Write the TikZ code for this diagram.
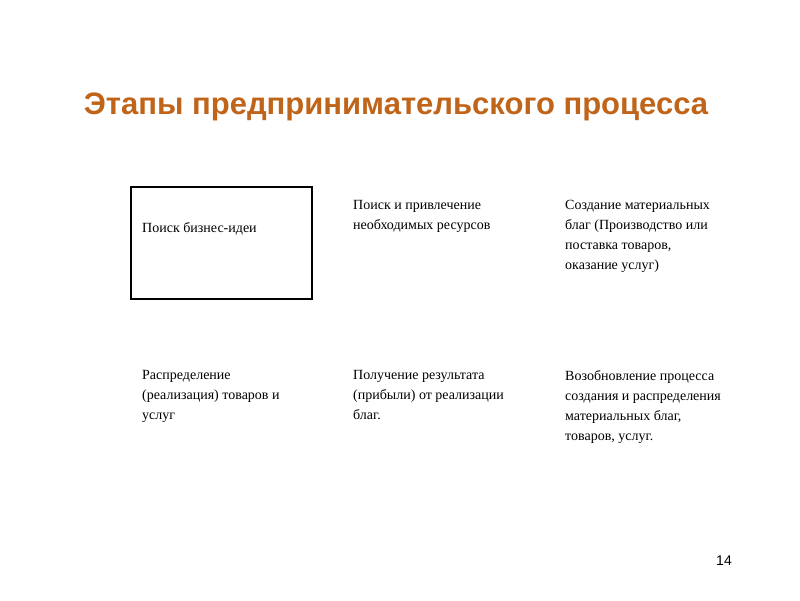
\documentclass[tikz,border=0pt]{standalone}
\usepackage{fontspec}
\setmainfont{Liberation Serif}
\newfontfamily\titlefont{Liberation Sans}
\definecolor{titlecol}{HTML}{C0641A}
\begin{document}
\begin{tikzpicture}[x=1pt,y=-1pt,
  body/.style={anchor=north west,inner sep=0pt,align=left,font=\fontsize{14}{20}\selectfont},
  frame/.style={draw=black,line width=1.6pt}]
\useasboundingbox[fill=white] (0,0) rectangle (800,600);
\node[anchor=center,inner sep=0pt,text=titlecol,font=\titlefont\bfseries\fontsize{31}{36}\selectfont] (title) at (396,107) {Этапы предпринимательского процесса};
\draw[frame] (131,187) rectangle (312,299);
\node[body] (t1) at (142,222) {Поиск бизнес-идеи};
\node[body] (t2) at (353,200) {Поиск и привлечение\\необходимых ресурсов};
\node[body] (t3) at (565,200) {Создание материальных\\благ (Производство или\\поставка товаров,\\оказание услуг)};
\node[body] (t4) at (142,370) {Распределение\\(реализация) товаров и\\услуг};
\node[body] (t5) at (353,370) {Получение результата\\(прибыли) от реализации\\благ.};
\node[body] (t6) at (565,370) {Возобновление процесса\\создания и распределения\\материальных благ,\\товаров, услуг.};
\node[anchor=center,inner sep=0pt,font=\titlefont\fontsize{14}{16}\selectfont] (pg) at (724,561) {14};
\end{tikzpicture}
\end{document}
